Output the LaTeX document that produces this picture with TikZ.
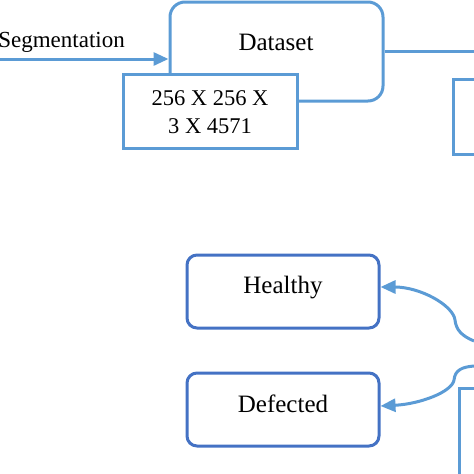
\documentclass[tikz,border=0pt]{standalone}
\usepackage{fontspec}
\setmainfont{Liberation Serif}
\usetikzlibrary{arrows.meta}
\definecolor{lblue}{HTML}{5B9BD5}
\definecolor{dblue}{HTML}{4472C4}
\begin{document}
\begin{tikzpicture}[x=1pt,y=-1pt,
    bigtxt/.style={font=\fontsize{25}{30}\selectfont,inner sep=0pt},
    smalltxt/.style={font=\fontsize{22.5}{28}\selectfont,inner sep=0pt,align=center},
    dsbox/.style={draw=lblue,line width=3pt,rounded corners=15pt,inner sep=0pt},
    sqbox/.style={draw=lblue,line width=3pt,fill=white,inner sep=0pt},
    outbox/.style={draw=dblue,line width=3pt,rounded corners=10pt,inner sep=0pt,minimum width=192pt,minimum height=73pt},
    link/.style={draw=lblue,line width=3pt},
    arr/.style={link,-{Triangle[length=15pt,width=13pt]}}]
    \clip (0,0) rectangle (474,474);
    \useasboundingbox (0,0) rectangle (474,474);
            \node (seg) at (125,47) [bigtxt,font=\fontsize{23}{28}\selectfont,anchor=base east] {Segmentation};
            \node (dataset) at (276.5,51.5) [dsbox,minimum width=213pt,minimum height=99pt] {};
            \node (datatxt) at (276,50) [bigtxt,anchor=base] {Dataset};
            \node (dims) at (210,111) [sqbox,minimum width=174pt,minimum height=74pt] {};
            \node (dimstxt) at (210,112) [smalltxt] {256 X 256 X\\3 X 4571};
            \node (rbox1) at (490,116.5) [sqbox,minimum width=74pt,minimum height=75pt] {};
            \node (rbox2) at (495,440) [sqbox,minimum width=72pt,minimum height=104pt] {};
            \node (healthy) at (283,291.5) [outbox] {};
            \node (healthytxt) at (283,293) [bigtxt,anchor=base] {Healthy};
            \node (defected) at (283,409.5) [outbox] {};
            \node (defectedtxt) at (283,412) [bigtxt,anchor=base] {Defected};
            \coordinate (segin) at (0,59);
            \coordinate (topout) at (474,51.5);
            \coordinate (hin) at (474,341);
            \coordinate (din) at (474,366);
            \draw[arr] (segin) -- (segin -| dataset.west);
            \draw[link] (dataset.east) -- (topout);
            \draw[arr] (hin) .. controls (462,336) and (456,330) .. (455,320) .. controls (453,305) and (420,287) .. ([yshift=4.5pt]healthy.east);
            \draw[arr] (din) .. controls (462,367) and (455,370) .. (454,380) .. controls (452,392) and (420,404) .. ([yshift=3.5pt]defected.east);
        \end{tikzpicture}
\end{document}
